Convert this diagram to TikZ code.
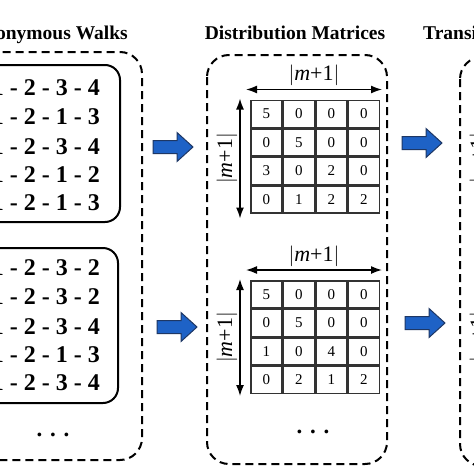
\documentclass[tikz,border=0pt]{standalone}
\usepackage{fontspec}
\setmainfont{Liberation Serif}
\usepackage{xcolor}
\usepackage{tikz}
\usetikzlibrary{matrix,arrows.meta}

\definecolor{arrowblue}{RGB}{30,98,198}
\definecolor{arrowedge}{RGB}{30,55,100}

\tikzset{
  title/.style={font=\bfseries\fontsize{19.5}{21}\selectfont, inner sep=0pt},
  stagebox/.style={draw, line width=2pt, dash pattern=on 8pt off 5pt, rounded corners=22pt},
  walkbox/.style={draw, line width=2pt, rounded corners=15pt},
  walk/.style={font=\bfseries\fontsize{24}{25}\selectfont, anchor=east, inner sep=0pt},
  moredots/.style={font=\bfseries\fontsize{23}{24}\selectfont, inner sep=0pt},
  cell/.style={draw=black!80, line width=1.5pt, minimum width=31pt, minimum height=27pt,
    inner sep=0pt, outer sep=0pt, anchor=center, font=\fontsize{15}{16}\selectfont},
  distmat/.style={matrix of nodes, inner sep=0pt, outer sep=0pt,
    column sep=0pt, row sep=0pt, nodes={cell}},
  dimarrow/.style={{Latex[length=11pt,width=8pt]}-{Latex[length=11pt,width=8pt]}, line width=1.5pt},
  dimlabel/.style={font=\fontsize{22}{24}\selectfont, inner sep=2pt},
  blockarrow/.pic={
    \filldraw[draw=arrowedge, fill=arrowblue, line width=1pt]
      (0,-6.5) -- (24,-6.5) -- (24,-14.5) -- (40,0) -- (24,14.5) -- (24,6.5) -- (0,6.5) -- cycle;
  }
}

\newcommand{\mdim}{$|$\textit{m}+1$|$}

\begin{document}
\begin{tikzpicture}[x=1pt,y=-1pt]
\useasboundingbox (0,0) rectangle (474,474);
\fill[white] (0,0) rectangle (474,474);
\clip (0,0) rectangle (474,474);

% titles
\node[title, anchor=base east] (walks) at (128,39) {Anonymous Walks};
\node[title, anchor=base] (dist) at (295,39) {Distribution Matrices};
\node[title, anchor=base west] (trans) at (423,39) {Transition Matrices};

% dashed stage boxes
\draw[stagebox] (-40,52) rectangle (142,460);
\draw[stagebox] (207,55) rectangle (387,464);
\draw[stagebox] (460,57) rectangle (640,466);

% walks of the first graph
\draw[walkbox] (-30,65) rectangle (120,222);
\node[walk] (wa1) at (100,88) {1 - 2 - 3 - 4};
\node[walk] (wa2) at (100,117) {1 - 2 - 1 - 3};
\node[walk] (wa3) at (100,147) {1 - 2 - 3 - 4};
\node[walk] (wa4) at (100,175) {1 - 2 - 1 - 2};
\node[walk] (wa5) at (100,203) {1 - 2 - 1 - 3};

% walks of the second graph
\draw[walkbox] (-30,248) rectangle (118,403);
\node[walk] (wb1) at (100,268) {1 - 2 - 3 - 2};
\node[walk] (wb2) at (100,297) {1 - 2 - 3 - 2};
\node[walk] (wb3) at (100,327) {1 - 2 - 3 - 4};
\node[walk] (wb4) at (100,355) {1 - 2 - 1 - 3};
\node[walk] (wb5) at (100,383) {1 - 2 - 3 - 4};
\node[moredots] (wdots) at (53,435) {. . .};

% distribution matrices
\matrix (dm1) [distmat] at (315,156.5) {
5 & 0 & 0 & 0 \\
0 & 5 & 0 & 0 \\
3 & 0 & 2 & 0 \\
0 & 1 & 2 & 2 \\
};
\draw[dimarrow] ([xshift=-4pt,yshift=10pt]dm1.north west) -- node[dimlabel, above=1pt] {\mdim} ([xshift=2pt,yshift=10pt]dm1.north east);
\draw[dimarrow] ([xshift=-10pt,yshift=-5pt]dm1.south west) -- node[dimlabel, sloped, above=0pt] {\mdim} ([xshift=-10pt,yshift=1pt]dm1.north west);

\matrix (dm2) [distmat] at (315,337) {
5 & 0 & 0 & 0 \\
0 & 5 & 0 & 0 \\
1 & 0 & 4 & 0 \\
0 & 2 & 1 & 2 \\
};
\draw[dimarrow] ([xshift=-4pt,yshift=10pt]dm2.north west) -- node[dimlabel, above=1pt] {\mdim} ([xshift=2pt,yshift=10pt]dm2.north east);
\draw[dimarrow] ([xshift=-10pt,yshift=-2pt]dm2.south west) -- node[dimlabel, sloped, above=0pt] {\mdim} ([xshift=-10pt,yshift=1pt]dm2.north west);
\node[moredots] (ddots) at (313,432) {. . .};

% transition matrices (cut by the frame)
\node[dimlabel, rotate=90] (tm1) at (480,158) {\mdim};
\node[dimlabel, rotate=90] (tm2) at (480,337) {\mdim};

% blue arrows between stages
\pic at (153,147) {blockarrow};
\pic at (157,327) {blockarrow};
\pic at (402,143) {blockarrow};
\pic at (405,323) {blockarrow};
\end{tikzpicture}
\end{document}
